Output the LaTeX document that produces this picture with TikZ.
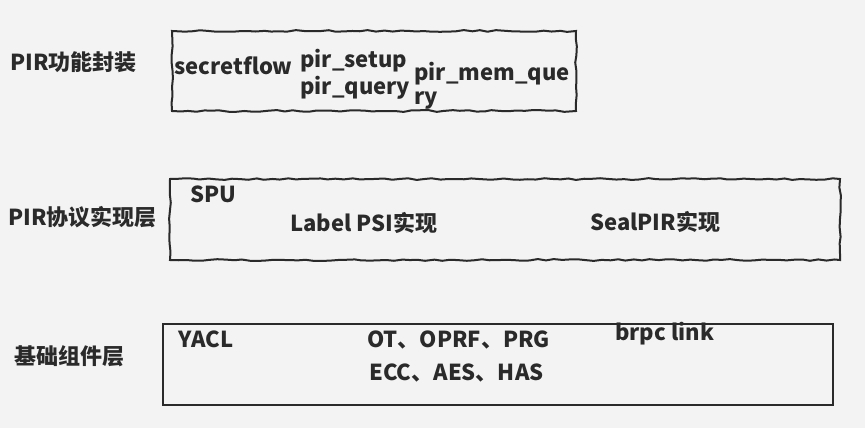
\documentclass[tikz,border=0pt]{standalone}
\usepackage{fontspec}
\setmainfont{Noto Sans CJK SC}
\usepackage{tikz}
\usetikzlibrary{positioning,decorations.pathmorphing}
\definecolor{bgcol}{HTML}{F3F3F3}
\definecolor{ink}{HTML}{2A2A2A}

\begin{document}
\begin{tikzpicture}[x=0.75pt,y=0.75pt,yscale=-1,xscale=1,
  txt/.style={anchor=west,inner sep=0pt,text=ink,font=\fontsize{16.5}{19}\selectfont\bfseries},
  layerbox/.style={draw=ink,line width=1.5pt},
  roughbox/.style={layerbox,decorate,decoration={random steps,segment length=6pt,amplitude=0.7pt}}]
%background, sets the size of the page
\fill[bgcol] (0,0) rectangle (865,428);

%Top layer box
\draw[roughbox] (172,31) rectangle (576,111);
%Middle layer box
\draw[roughbox] (170,179) rectangle (840,260);
%Bottom layer box
\draw[layerbox] (163,324) rectangle (833,405);

% Layer names
\node[txt] (lblwrap) at (10,62) {PIR功能封装};
\node[txt] (lblproto) at (8,217) {PIR协议实现层};
\node[txt] (lblbase) at (14,356) {基础组件层};

% Top layer texts
\node[txt] (secflow) at (174,66) {secretflow};
\node[txt] (setup) at (300,61) {pir\_setup};
\node[txt] (query) at (300,88) {pir\_query};
\node[txt] (memq) at (414,74) {pir\_mem\_que};
\node[txt] (memqend) at (414,100) {ry};

% Middle layer texts
\node[txt] (spu) at (190,194) {SPU};
\node[txt] (labelpsi) at (290,223) {Label PSI实现};
\node[txt] (sealpir) at (590,222) {SealPIR实现};

% Bottom layer texts
\node[txt] (yacl) at (178,339) {YACL};
\node[txt] (otline) at (367,340) {OT、OPRF、PRG};
\node[txt] (eccline) at (369,373) {ECC、AES、HAS};
\node[txt] (brpc) at (615,334) {brpc link};

\end{tikzpicture}
\end{document}
